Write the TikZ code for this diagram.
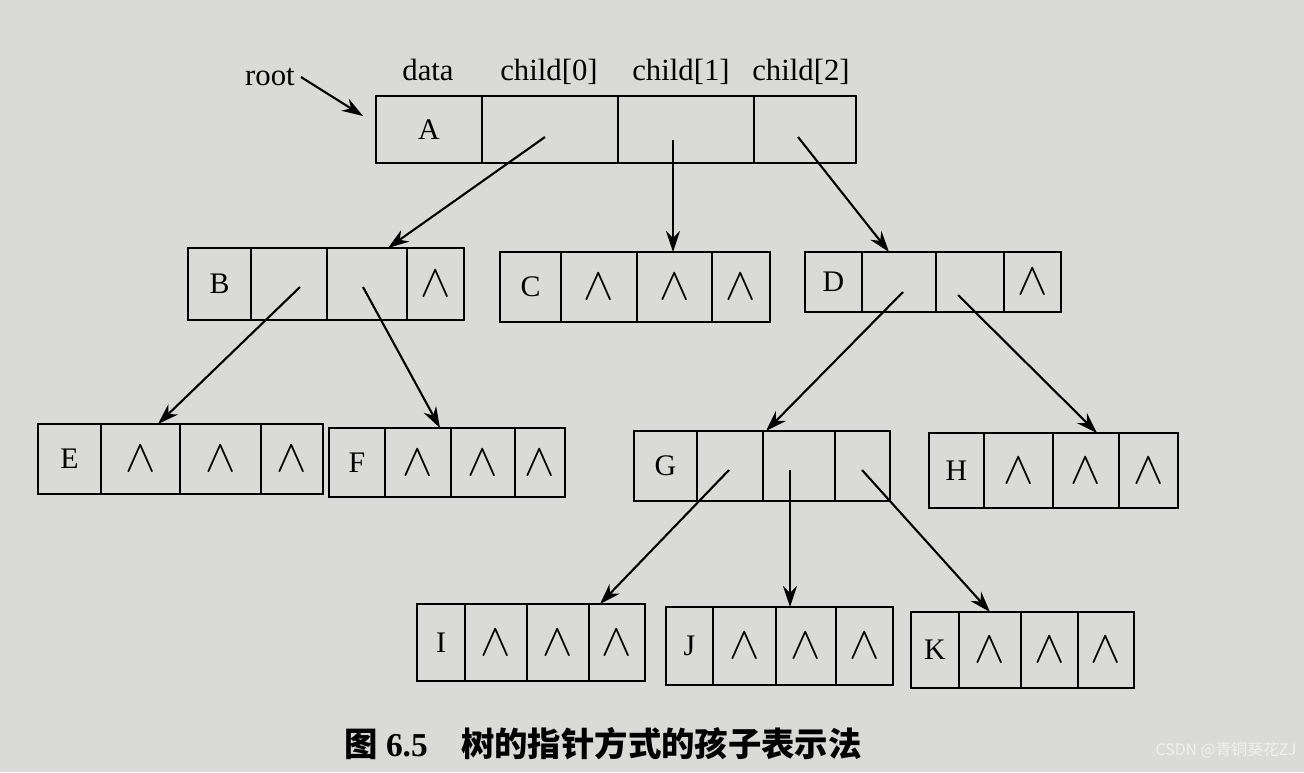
\documentclass[tikz,border=0pt]{standalone}
\usepackage{fontspec}
\setmainfont{Liberation Serif}
\newfontfamily\cjk{Noto Sans CJK SC}
\usetikzlibrary{arrows.meta}

\definecolor{paper}{RGB}{218,218,216}
\definecolor{mark}{RGB}{240,240,240}

% one cell of a record: name, x0, x1, y0, y1, text
\newcommand{\cell}[6]{\node [cell,minimum width={(#3-#2)*0.02cm},minimum height={(#5-#4)*0.02cm}] (#1) at ({(#2+#3)/2},{(#4+#5)/2}) {#6};}
\newcommand{\nil}{\scalebox{1.5}{$\wedge$}}

\begin{document}
\begin{tikzpicture}[x=0.02cm,y=-0.02cm]
\tikzstyle{cell}=[draw,rectangle,inner sep=0pt,line width=1.5pt,font=\fontsize{17}{20}\selectfont];
\tikzstyle{lab}=[font=\fontsize{17.5}{20}\selectfont];
\tikzstyle{dir}=[-{Stealth[length=12pt,width=8pt]},line width=1.2pt];
\fill [paper] (0,0) rectangle (1304,772);
\useasboundingbox (0,0) rectangle (1304,772);
% root record
\cell{a0}{376}{482}{96}{163}{A}
\cell{a1}{482}{618}{96}{163}{}
\cell{a2}{618}{754}{96}{163}{}
\cell{a3}{754}{856}{96}{163}{}
\node [lab] (ldata) at (428,70) {data};
\node [lab] (lc0) at (549,72) {child[0]};
\node [lab] (lc1) at (681,72) {child[1]};
\node [lab] (lc2) at (801,72) {child[2]};
\node [lab] (root) at (270,77) {root};
\coordinate (proot) at (363,116);
\draw [dir] (root.east) -- (proot);
% second level
\cell{b0}{188}{251}{248}{320}{B}
\cell{b1}{251}{327}{248}{320}{}
\cell{b2}{327}{407}{248}{320}{}
\cell{b3}{407}{464}{248}{320}{\nil}
\cell{c0}{500}{561}{252}{322}{C}
\cell{c1}{561}{637}{252}{322}{\nil}
\cell{c2}{637}{712}{252}{322}{\nil}
\cell{c3}{712}{770}{252}{322}{\nil}
\cell{d0}{805}{862}{252}{312}{D}
\cell{d1}{862}{936}{252}{312}{}
\cell{d2}{936}{1004}{252}{312}{}
\cell{d3}{1004}{1061}{252}{312}{\nil}
% third level
\cell{e0}{38}{101}{424}{494}{E}
\cell{e1}{101}{180}{424}{494}{\nil}
\cell{e2}{180}{261}{424}{494}{\nil}
\cell{e3}{261}{323}{424}{494}{\nil}
\cell{f0}{329}{385}{428}{497}{F}
\cell{f1}{385}{451}{428}{497}{\nil}
\cell{f2}{451}{515}{428}{497}{\nil}
\cell{f3}{515}{565}{428}{497}{\nil}
\cell{g0}{634}{697}{431}{501}{G}
\cell{g1}{697}{763}{431}{501}{}
\cell{g2}{763}{835}{431}{501}{}
\cell{g3}{835}{890}{431}{501}{}
\cell{h0}{929}{984}{433}{508}{H}
\cell{h1}{984}{1053}{433}{508}{\nil}
\cell{h2}{1053}{1119}{433}{508}{\nil}
\cell{h3}{1119}{1178}{433}{508}{\nil}
% fourth level
\cell{i0}{417}{465}{604}{681}{I}
\cell{i1}{465}{527}{604}{681}{\nil}
\cell{i2}{527}{589}{604}{681}{\nil}
\cell{i3}{589}{645}{604}{681}{\nil}
\cell{j0}{666}{713}{607}{685}{J}
\cell{j1}{713}{776}{607}{685}{\nil}
\cell{j2}{776}{836}{607}{685}{\nil}
\cell{j3}{836}{893}{607}{685}{\nil}
\cell{k0}{911}{959}{612}{688}{K}
\cell{k1}{959}{1021}{612}{688}{\nil}
\cell{k2}{1021}{1078}{612}{688}{\nil}
\cell{k3}{1078}{1134}{612}{688}{\nil}
% pointers
\coordinate (pa1) at (545,137);
\coordinate (pa2) at (673,140);
\coordinate (pa3) at (798,137);
\coordinate (pb1) at (300,287);
\coordinate (pb2) at (363,287);
\coordinate (pd1) at (903,292);
\coordinate (pd2) at (958,295);
\coordinate (pg1) at (729,470);
\coordinate (pg2) at (790,470);
\coordinate (pg3) at (862,470);
\coordinate (tb) at (388,248);
\coordinate (tc) at (673,252);
\coordinate (td) at (889,252);
\coordinate (te) at (158,424);
\coordinate (tf) at (440,428);
\coordinate (tg) at (766,431);
\coordinate (th) at (1097,433);
\coordinate (ti) at (600,604);
\coordinate (tj) at (790,607);
\coordinate (tk) at (990,612);
\draw [dir] (pa1) -- (tb);
\draw [dir] (pa2) -- (tc);
\draw [dir] (pa3) -- (td);
\draw [dir] (pb1) -- (te);
\draw [dir] (pb2) -- (tf);
\draw [dir] (pd1) -- (tg);
\draw [dir] (pd2) -- (th);
\draw [dir] (pg1) -- (ti);
\draw [dir] (pg2) -- (tj);
\draw [dir] (pg3) -- (tk);
% caption
\node (cap) at (603,744) {\fontsize{19}{22}\selectfont{\cjk\bfseries 图} \textbf{6.5}\quad{\cjk\bfseries 树的指针方式的孩子表示法}};
\node [text=mark] (wm) at (1226,750) {\fontsize{9}{11}\selectfont\cjk CSDN @青铜葵花ZJ};
\end{tikzpicture}
\end{document}
